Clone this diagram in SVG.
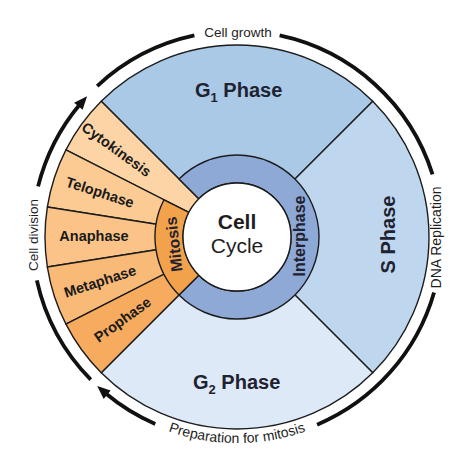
<svg xmlns="http://www.w3.org/2000/svg" width="474" height="473" viewBox="0 0 474 473">
<style>
.seg{stroke:#1c1c1c;stroke-width:1.4;stroke-linejoin:round}
.arc{fill:none;stroke:#111;stroke-width:3.8;stroke-linecap:butt}
.head{fill:#111}
.lbl{font-family:"Liberation Sans",Arial,sans-serif;fill:#1e1e1e}
.ph{font-family:"Liberation Sans",Arial,sans-serif;font-weight:bold;font-size:20px;fill:#1f2230}
.mit{font-family:"Liberation Sans",Arial,sans-serif;font-weight:bold;font-size:14.5px;fill:#1a1a1a;text-anchor:middle}
</style>
<rect width="474" height="473" fill="#ffffff"/>
<g id="g1-phase">
<path class="seg" fill="#a9c9e6" d="M237,237 L101.24,101.24 A192,192 0 0 1 372.76,101.24 Z"/>
<text class="ph" x="195" y="96.5">G<tspan font-size="13" dy="5">1</tspan><tspan dy="-5"> Phase</tspan></text>
</g>
<g id="s-phase">
<path class="seg" fill="#bfd7ee" d="M237,237 L372.76,101.24 A192,192 0 0 1 372.76,372.76 Z"/>
<text class="ph" text-anchor="middle" transform="translate(394.5,234.5) rotate(-90)">S Phase</text>
</g>
<g id="g2-phase">
<path class="seg" fill="#dde9f6" d="M237,237 L372.76,372.76 A192,192 0 0 1 101.24,372.76 Z"/>
<text class="ph" x="193" y="388.5">G<tspan font-size="13" dy="5">2</tspan><tspan dy="-5"> Phase</tspan></text>
</g>
<g id="cytokinesis">
<path class="seg" fill="#fdd4a6" d="M237,237 L65.93,149.83 A192,192 0 0 1 101.24,101.24 Z"/>
<text class="mit" dy="0.35em" transform="translate(116.5,149.4) rotate(36)">Cytokinesis</text>
</g>
<g id="telophase">
<path class="seg" fill="#fccb93" d="M237,237 L47.36,206.97 A192,192 0 0 1 65.93,149.83 Z"/>
<text class="mit" dy="0.35em" transform="translate(100,192.3) rotate(18)">Telophase</text>
</g>
<g id="anaphase">
<path class="seg" fill="#fbc387" d="M237,237 L47.36,267.03 A192,192 0 0 1 47.36,206.97 Z"/>
<text class="mit" dy="0.35em" transform="translate(94,235.5)">Anaphase</text>
</g>
<g id="metaphase">
<path class="seg" fill="#f9b977" d="M237,237 L65.93,324.17 A192,192 0 0 1 47.36,267.03 Z"/>
<text class="mit" dy="0.35em" transform="translate(100,281.3) rotate(-18)">Metaphase</text>
</g>
<g id="prophase">
<path class="seg" fill="#f6ab5e" d="M237,237 L101.24,372.76 A192,192 0 0 1 65.93,324.17 Z"/>
<text class="mit" dy="0.35em" transform="translate(122.5,319.5) rotate(-36)">Prophase</text>
</g>
<g id="interphase">
<path class="seg" fill="#8ea9d5" d="M179.02,179.02 A82,82 0 1 1 179.02,294.98 L198.82,275.18 A54,54 0 1 0 198.82,198.82 Z"/>
<text class="ph" text-anchor="middle" style="font-size:16px" transform="translate(305,236) rotate(-90)">Interphase</text>
</g>
<g id="mitosis">
<path class="seg" fill="#f3a24c" d="M179.02,294.98 A82,82 0 0 1 163.94,199.77 L188.89,212.48 A54,54 0 0 0 198.82,275.18 Z"/>
<text class="ph" text-anchor="middle" style="font-size:16px" transform="translate(179.4,243.6) rotate(-96.5)">Mitosis</text>
</g>
<g id="cell-cycle">
<circle class="seg" cx="237" cy="237" r="54" fill="#ffffff"/>
<text class="lbl" x="237" y="228.5" text-anchor="middle" font-size="21" font-weight="bold" fill="#1a1a1a">Cell</text>
<text class="lbl" x="237" y="252.5" text-anchor="middle" font-size="21">Cycle</text>
</g>
<g id="connectors">
<path class="arc" d="M38.09,186.41 A205,205 0 0 1 79.96,104.23"/>
<polygon class="head" points="87.07,96.19 74.10,102.68 82.62,109.64"/>
<path class="arc" d="M97.19,86.07 A205,205 0 0 1 194.38,35.48"/>
<path class="arc" d="M279.62,35.48 A205,205 0 0 1 432.51,174.35"/>
<path class="arc" d="M434.06,292.51 A205,205 0 0 1 317.10,424.70"/>
<path class="arc" d="M155.26,424.0 A205,205 0 0 1 105.23,393.04"/>
<polygon class="head" points="97.19,385.93 103.68,398.90 110.64,390.38"/>
<path class="arc" d="M90.78,379.69 A205,205 0 0 1 36.86,280.37"/>
</g>
<g id="arc-labels">
<defs><path id="botArc" d="M57.73,339.5 A207,207 0 0 0 416.27,339.5"/></defs>
<text class="lbl" x="238" y="37" text-anchor="middle" font-size="13.5">Cell growth</text>
<text class="lbl" text-anchor="middle" font-size="14" transform="translate(440.5,237.5) rotate(-90)">DNA Replication</text>
<text class="lbl" text-anchor="middle" font-size="13.5" transform="translate(38.3,235) rotate(-90)">Cell division</text>
<text class="lbl" font-size="14"><textPath href="#botArc" startOffset="50%" text-anchor="middle">Preparation for mitosis</textPath></text>
</g>
</svg>
